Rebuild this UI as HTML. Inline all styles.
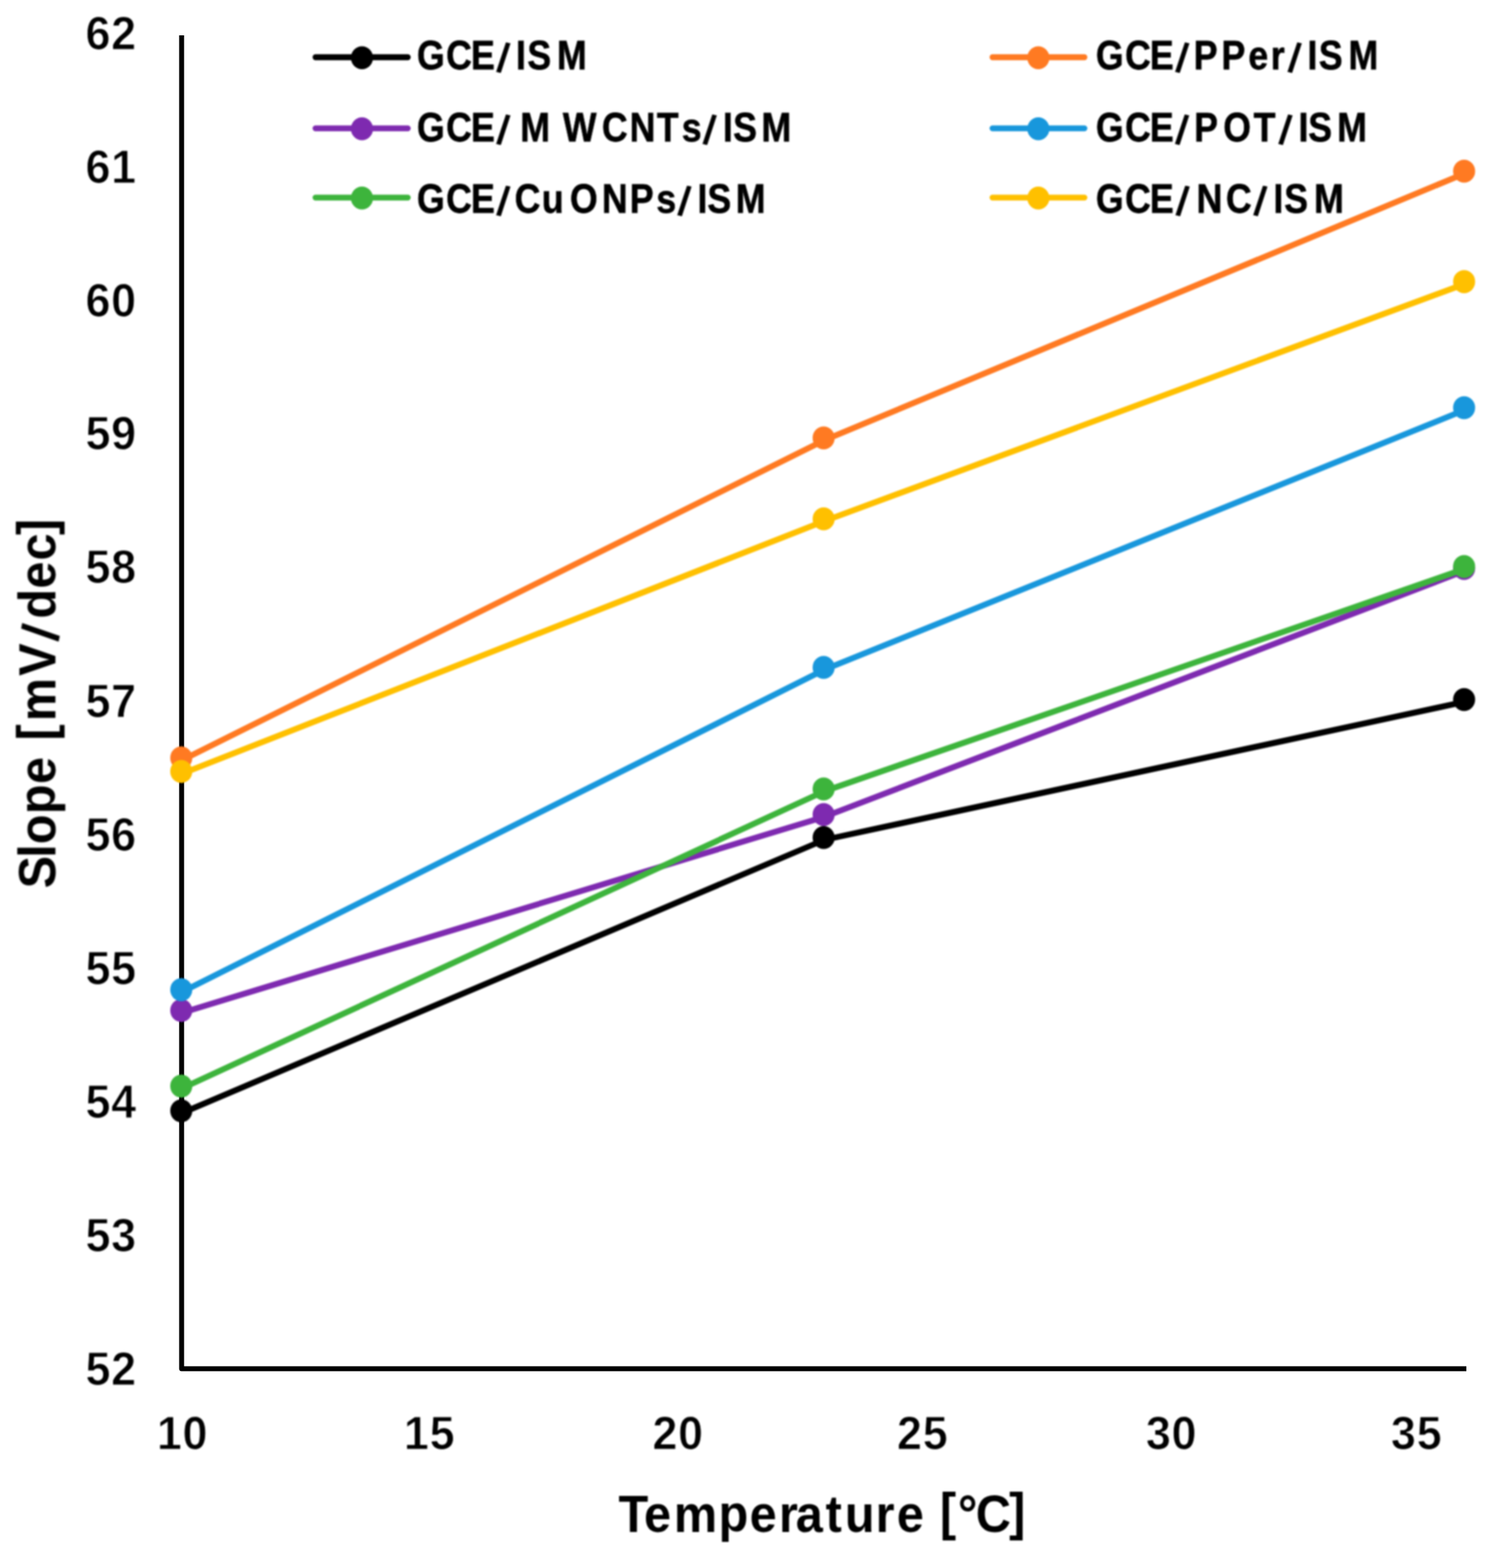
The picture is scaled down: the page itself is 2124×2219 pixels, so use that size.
<!DOCTYPE html>
<html lang="en">
<head>
<meta charset="utf-8">
<title>Slope vs Temperature</title>
<style>
html,body{margin:0;padding:0;background:#fff;}
body{width:2124px;height:2219px;overflow:hidden;}
svg{display:block;}
#yticks,#xticks,#series,#legend,#titles{filter:blur(1px);}
text{font-family:"Liberation Sans",sans-serif;font-weight:bold;fill:#000;}
.tick{font-size:66.2px;stroke:#fff;stroke-width:1px;}
.leg text{font-size:58.0px;stroke:#000;stroke-width:0.8px;}
.title{font-size:75.0px;}
.ln{fill:none;stroke-width:8.4;stroke-linecap:round;stroke-linejoin:round;}
</style>
</head>
<body>
<svg width="2124" height="2219" viewBox="0 0 2124 2219">
<rect x="0" y="0" width="2124" height="2219" fill="#ffffff"/>
<g id="axes">
<polyline points="257,50 257,1937 2075,1937" fill="none" stroke="#000" stroke-width="7" stroke-linejoin="round"/>
</g>
<g id="yticks" class="tick">
<text transform="translate(0,70.3) scale(0.96,1)" x="126.0 163.8" y="0">62</text>
<text transform="translate(0,259.3) scale(0.96,1)" x="126.0 163.8" y="0">61</text>
<text transform="translate(0,447.8) scale(0.96,1)" x="126.0 163.8" y="0">60</text>
<text transform="translate(0,636.3) scale(0.96,1)" x="126.0 163.8" y="0">59</text>
<text transform="translate(0,825.3) scale(0.96,1)" x="126.0 163.8" y="0">58</text>
<text transform="translate(0,1014.6) scale(0.96,1)" x="126.0 163.8" y="0">57</text>
<text transform="translate(0,1203.6) scale(0.96,1)" x="126.0 163.8" y="0">56</text>
<text transform="translate(0,1393.0) scale(0.96,1)" x="126.0 163.8" y="0">55</text>
<text transform="translate(0,1582.0) scale(0.96,1)" x="126.0 163.8" y="0">54</text>
<text transform="translate(0,1771.0) scale(0.96,1)" x="126.0 163.8" y="0">53</text>
<text transform="translate(0,1960.3) scale(0.96,1)" x="126.0 163.8" y="0">52</text>
</g>
<g id="xticks" class="tick">
<text transform="translate(0,2051.3) scale(0.96,1)" x="231.2 269.1" y="0">10</text>
<text transform="translate(0,2051.3) scale(0.96,1)" x="595.4 633.4" y="0">15</text>
<text transform="translate(0,2051.3) scale(0.96,1)" x="961.6 999.5" y="0">20</text>
<text transform="translate(0,2051.3) scale(0.96,1)" x="1322.2 1360.1" y="0">25</text>
<text transform="translate(0,2051.3) scale(0.96,1)" x="1689.0 1726.9" y="0">30</text>
<text transform="translate(0,2051.3) scale(0.96,1)" x="2050.2 2088.2" y="0">35</text>
</g>
<g id="series">
<g>
<polyline class="ln" stroke="#FF7A22" points="257.5,1075.7 1166.5,622.9 2072.8,245.4"/>
<ellipse cx="256.5" cy="1072.5" rx="15.6" ry="16.3" fill="#FF7A22"/>
<ellipse cx="1165.5" cy="619.7" rx="15.6" ry="16.3" fill="#FF7A22"/>
<ellipse cx="2071.8" cy="242.2" rx="15.6" ry="16.3" fill="#FF7A22"/>
</g>
<g>
<polyline class="ln" stroke="#7E2AB0" points="257.5,1433.2 1166.5,1155.9 2072.8,807.7"/>
<ellipse cx="256.5" cy="1430.0" rx="15.6" ry="16.3" fill="#7E2AB0"/>
<ellipse cx="1165.5" cy="1152.7" rx="15.6" ry="16.3" fill="#7E2AB0"/>
<ellipse cx="2071.8" cy="804.5" rx="15.6" ry="16.3" fill="#7E2AB0"/>
</g>
<g>
<polyline class="ln" stroke="#1897DC" points="257.5,1403.8 1166.5,947.7 2072.8,580.2"/>
<ellipse cx="256.5" cy="1400.6" rx="15.6" ry="16.3" fill="#1897DC"/>
<ellipse cx="1165.5" cy="944.5" rx="15.6" ry="16.3" fill="#1897DC"/>
<ellipse cx="2071.8" cy="577.0" rx="15.6" ry="16.3" fill="#1897DC"/>
</g>
<g>
<polyline class="ln" stroke="#3DB43C" points="257.5,1540.2 1166.5,1119.7 2072.8,805.0"/>
<ellipse cx="256.5" cy="1537.0" rx="15.6" ry="16.3" fill="#3DB43C"/>
<ellipse cx="1165.5" cy="1116.5" rx="15.6" ry="16.3" fill="#3DB43C"/>
<ellipse cx="2071.8" cy="801.8" rx="15.6" ry="16.3" fill="#3DB43C"/>
</g>
<g>
<polyline class="ln" stroke="#FFC000" points="257.5,1094.9 1166.5,737.4 2072.8,401.8"/>
<ellipse cx="256.5" cy="1091.7" rx="15.6" ry="16.3" fill="#FFC000"/>
<ellipse cx="1165.5" cy="734.2" rx="15.6" ry="16.3" fill="#FFC000"/>
<ellipse cx="2071.8" cy="398.6" rx="15.6" ry="16.3" fill="#FFC000"/>
</g>
<g>
<polyline class="ln" stroke="#000000" points="257.5,1575.2 1166.5,1188.5 2072.8,993.2"/>
<ellipse cx="256.5" cy="1572.0" rx="15.6" ry="16.3" fill="#000000"/>
<ellipse cx="1165.5" cy="1185.3" rx="15.6" ry="16.3" fill="#000000"/>
<ellipse cx="2071.8" cy="990.0" rx="15.6" ry="16.3" fill="#000000"/>
</g>
</g>
<g id="legend" class="leg">
<line class="ln" stroke="#000000" x1="446.5" y1="81.0" x2="577.0" y2="81.0"/>
<ellipse cx="512.2" cy="81.7" rx="15.6" ry="16.3" fill="#000000"/>
<text transform="translate(0,97.8) scale(0.87,1)" x="678.2 725.6 766.1 807.1 839.4 857.7 906.0" y="0 0 0 2.5 0 0 0" rotate="0 0 0 10 0 0 0">GCE/ISM</text>
<line class="ln" stroke="#7E2AB0" x1="446.5" y1="181.6" x2="577.0" y2="181.6"/>
<ellipse cx="512.2" cy="182.3" rx="15.6" ry="16.3" fill="#7E2AB0"/>
<text transform="translate(0,199.8) scale(0.87,1)" x="678.2 725.6 766.1 807.3 846.2 915.4 979.0 1024.2 1068.5 1108.9 1142.8 1175.9 1192.6 1238.4" y="0 0 0 2.5 0 0 0 0 0 0 2.5 0 0 0" rotate="0 0 0 10 0 0 0 0 0 0 10 0 0 0">GCE/MWCNTs/ISM</text>
<line class="ln" stroke="#3DB43C" x1="446.5" y1="279.6" x2="577.0" y2="279.6"/>
<ellipse cx="512.2" cy="280.3" rx="15.6" ry="16.3" fill="#3DB43C"/>
<text transform="translate(0,300.5) scale(0.87,1)" x="678.2 725.6 766.1 807.3 837.1 881.4 927.0 979.1 1024.4 1067.5 1101.7 1134.4 1150.7 1196.9" y="0 0 0 2.5 0 0 0 0 0 0 2.5 0 0 0" rotate="0 0 0 10 0 0 0 0 0 0 10 0 0 0">GCE/CuONPs/ISM</text>
<line class="ln" stroke="#FF7A22" x1="1404.5" y1="81.0" x2="1534.5" y2="81.0"/>
<ellipse cx="1469.3" cy="81.7" rx="15.6" ry="16.3" fill="#FF7A22"/>
<text transform="translate(0,97.8) scale(0.87,1)" x="1782.5 1829.9 1870.3 1911.4 1941.7 1986.9 2030.4 2067.0 2094.4 2126.7 2145.0 2193.3" y="0 0 0 2.5 0 0 0 0 2.5 0 0 0" rotate="0 0 0 10 0 0 0 0 10 0 0 0">GCE/PPer/ISM</text>
<line class="ln" stroke="#1897DC" x1="1404.5" y1="181.6" x2="1534.5" y2="181.6"/>
<ellipse cx="1469.3" cy="182.3" rx="15.6" ry="16.3" fill="#1897DC"/>
<text transform="translate(0,199.8) scale(0.87,1)" x="1782.5 1829.9 1870.3 1911.2 1942.2 1989.6 2039.0 2079.3 2112.0 2127.9 2174.9" y="0 0 0 2.5 0 0 0 2.5 0 0 0" rotate="0 0 0 10 0 0 0 10 0 0 0">GCE/POT/ISM</text>
<line class="ln" stroke="#FFC000" x1="1404.5" y1="279.6" x2="1534.5" y2="279.6"/>
<ellipse cx="1469.3" cy="280.3" rx="15.6" ry="16.3" fill="#FFC000"/>
<text transform="translate(0,300.5) scale(0.87,1)" x="1782.5 1829.9 1870.3 1912.1 1946.4 1993.9 2038.6 2071.3 2088.9 2137.5" y="0 0 0 2.5 0 0 2.5 0 0 0" rotate="0 0 0 10 0 0 10 0 0 0">GCE/NC/ISM</text>
</g>
<g id="titles" class="title">
<text transform="translate(0,2167.6) scale(0.92,1)" x="951.4 990.5 1036.5 1105.3 1153.1 1198.0 1224.0 1269.8 1299.5 1346.7 1379.4 1421.1 1445.6 1473.4 1500.8 1552.1" y="0 0 0 -1 0 0 0 0 0 0 0 0 -2.5 0 0 -2.5">Temperature [°C]</text>
<text transform="translate(78.4,1260.0) rotate(-90) scale(0.92,1)" x="3.1 49.9 71.0 117.2 163.6 205.3 230.4 260.0 329.8 382.0 417.9 464.2 507.3 546.5" y="0 0 0 -1 0 0 -2.5 0 0 3 0 0 0 -2.5" rotate="0 0 0 0 0 0 0 0 0 10 0 0 0 0">Slope [mV/dec]</text>
</g>
</svg>
</body>
</html>
